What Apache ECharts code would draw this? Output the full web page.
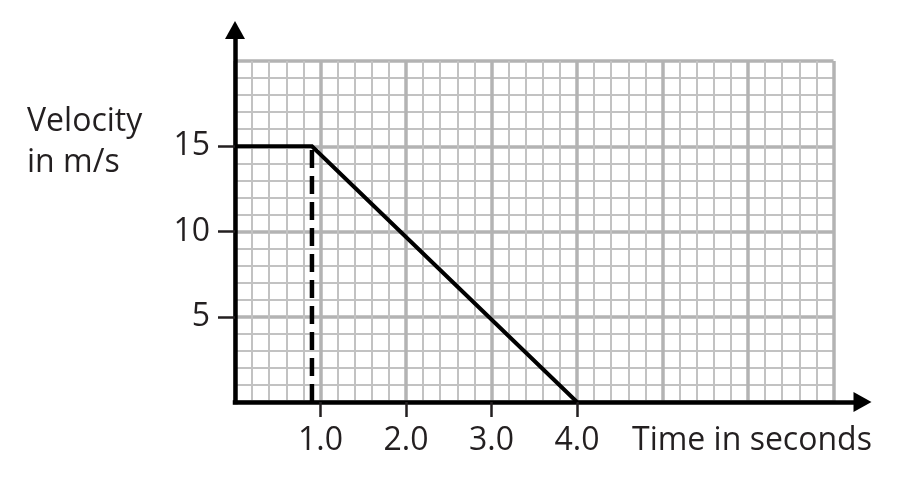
<!DOCTYPE html>
<html lang="en">
<head>
    <meta charset="UTF-8">
    <title>Velocity-time graph</title>
    <script src="https://cdn.jsdelivr.net/npm/echarts@6/dist/echarts.min.js"></script>
    <style>
        html, body { margin: 0; padding: 0; background: #fff; }
    </style>
</head>
<body>
<div id="myDiv" style="width: 910px;height: 492px"></div>

<script>
    // graph data
    const times = [0, 0.9, 4.0];
    const velocities = [15, 15, 0];
    const xTickValues = [1, 2, 3, 4];
    const xTickLabels = ['1.0', '2.0', '3.0', '4.0'];
    const yTickValues = [5, 10, 15];
    const yTickLabels = ['5', '10', '15'];
    const paperMaxX = 7;
    const paperMaxY = 20;

    const textColor = '#231f20';
    const font = '"Open Sans", sans-serif';
    const fontSize = 32;

    let chart = echarts.init(document.getElementById('myDiv'));

    // line points and the dashed drop line under the corner
    let lineData = times.map((t, i) => [t, velocities[i]]);
    let dropData = [[times[1], 0], [times[1], velocities[1]]];

    // pixel scale of the squared paper
    const paperW = 598.5, paperH = 341;
    const unitX = paperW / paperMaxX;
    const unitY = paperH / paperMaxY;
    const axesW = 627.5, axesH = 372;

    let option = {
        animation: false,
        grid: [
            // squared paper
            {left: 235, top: 61, width: paperW, height: paperH, outerBoundsMode: 'none', containLabel: false},
            // axes with arrows, same scale, longer
            {left: 235, top: 30, width: axesW, height: axesH, outerBoundsMode: 'none', containLabel: false}
        ],
        xAxis: [
            {
                gridIndex: 0, type: 'value', min: 0, max: paperMaxX, interval: 1, z: -1,
                axisLine: {show: false}, axisTick: {show: false}, axisLabel: {show: false},
                splitLine: {show: true, lineStyle: {color: '#b3b3b3', width: 3.5}},
                minorTick: {show: false, splitNumber: 5},
                minorSplitLine: {show: true, lineStyle: {color: '#c2c2c2', width: 2}}
            },
            {
                gridIndex: 1, type: 'value', min: 0, max: axesW / unitX,
                splitLine: {show: false},
                axisLine: {
                    show: true, symbol: ['none', 'triangle'], symbolSize: [20, 18],
                    lineStyle: {color: '#000', width: 4.5, cap: 'square'}
                },
                axisTick: {
                    show: true, inside: false, length: 15, customValues: xTickValues,
                    lineStyle: {color: textColor, width: 2.5}
                },
                axisLabel: {
                    show: true, margin: 23, customValues: xTickValues,
                    formatter: v => xTickLabels[xTickValues.indexOf(v)],
                    color: textColor, fontFamily: font, fontSize: fontSize
                }
            }
        ],
        yAxis: [
            {
                gridIndex: 0, type: 'value', min: 0, max: paperMaxY, interval: 5, z: -1,
                axisLine: {show: false}, axisTick: {show: false}, axisLabel: {show: false},
                splitLine: {show: true, lineStyle: {color: '#b3b3b3', width: 3.5}},
                minorTick: {show: false, splitNumber: 5},
                minorSplitLine: {show: true, lineStyle: {color: '#c2c2c2', width: 2}}
            },
            {
                gridIndex: 1, type: 'value', min: 0, max: axesH / unitY,
                splitLine: {show: false},
                axisLine: {
                    show: true, symbol: ['none', 'triangle'], symbolSize: [20, 18],
                    lineStyle: {color: '#000', width: 4.5, cap: 'square'}
                },
                axisTick: {
                    show: true, inside: false, length: 17, customValues: yTickValues,
                    lineStyle: {color: textColor, width: 2.5}
                },
                axisLabel: {
                    show: true, margin: 25, customValues: yTickValues,
                    formatter: v => yTickLabels[yTickValues.indexOf(v)],
                    color: textColor, fontFamily: font, fontSize: fontSize
                }
            }
        ],
        graphic: [
            {
                type: 'text', left: 27, top: 101,
                style: {text: 'Velocity\nin m/s', font: fontSize + 'px ' + font, fill: textColor, lineHeight: 41}
            },
            {
                type: 'text', left: 632, top: 425,
                style: {text: 'Time in seconds', font: fontSize + 'px ' + font, fill: textColor}
            }
        ],
        series: [
            {
                type: 'line', xAxisIndex: 1, yAxisIndex: 1, data: dropData,
                symbol: 'none', silent: true,
                lineStyle: {color: '#000', width: 4.5, type: [18, 8]}
            },
            {
                type: 'line', xAxisIndex: 1, yAxisIndex: 1, data: lineData,
                symbol: 'none', silent: true,
                lineStyle: {color: '#000', width: 4, join: 'miter'}
            }
        ]
    };
    chart.setOption(option);
</script>
</body>
</html>
